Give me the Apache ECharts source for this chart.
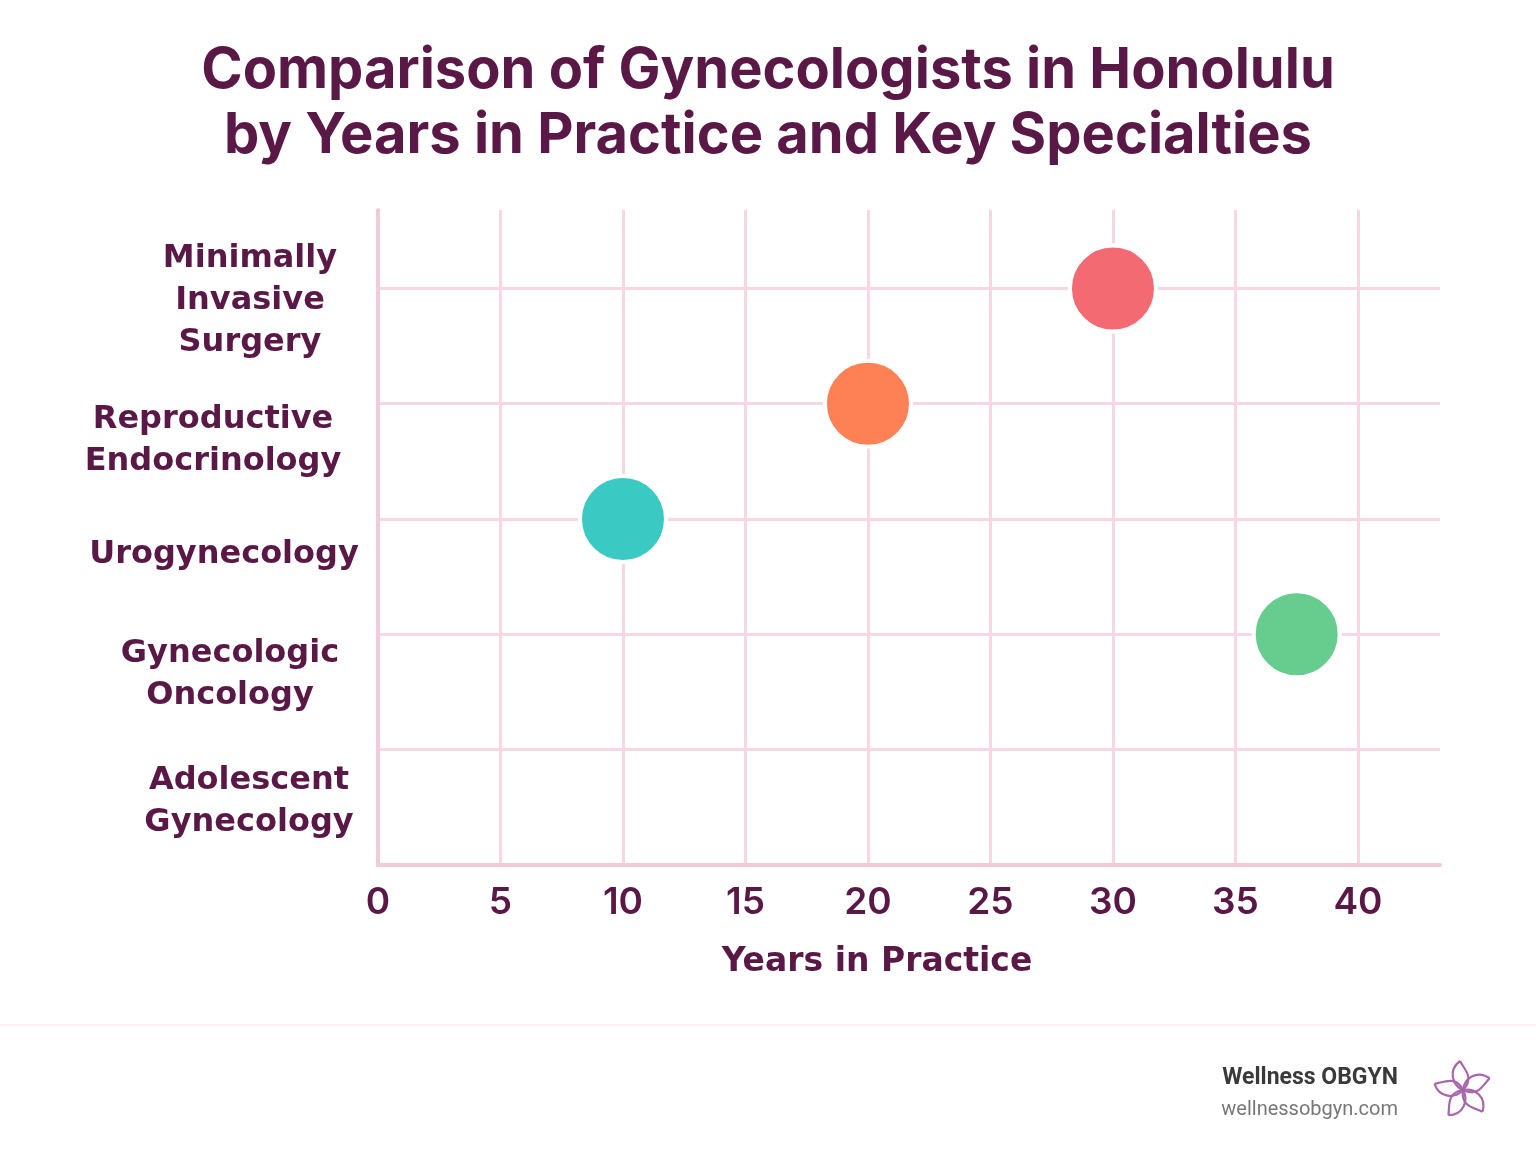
<!DOCTYPE html>
<html><head><meta charset="utf-8">
<script src="https://cdn.jsdelivr.net/npm/echarts@6/dist/echarts.min.js"></script>
<style>html,body{margin:0;padding:0;background:#fff}#c{width:1536px;height:1154px}</style>
</head><body><div id="c"></div>
<script>
// ---- data ----
const titleText = 'Comparison of Gynecologists in Honolulu\nby Years in Practice and Key Specialties';
const xAxisName = 'Years in Practice';
const categories = ['Minimally Invasive Surgery', 'Reproductive Endocrinology', 'Urogynecology', 'Gynecologic Oncology', 'Adolescent Gynecology'];
const categoryLabels = ['Minimally\nInvasive\nSurgery', 'Reproductive\nEndocrinology', 'Urogynecology', 'Gynecologic\nOncology', 'Adolescent\nGynecology'];
const pointCategories = ['Minimally Invasive Surgery', 'Reproductive Endocrinology', 'Urogynecology', 'Gynecologic Oncology'];
const yearsInPractice = [30, 20, 10, 37.5];
const xTickLabels = ['0', '5', '10', '15', '20', '25', '30', '35', '40'];
const brandName = 'Wellness OBGYN';
const brandUrl = 'wellnessobgyn.com';

// ---- styling ----
const pointColors = ['#f46a72', '#fe8055', '#3bc9c4', '#66cd8e'];
const ink = '#5a1846';
const gridPink = '#f7d7e3';
const axisPink = '#f2cbdb';
const FONT = 'Inter, "Noto Sans", sans-serif';
const WIDE = '"DejaVu Sans", Inter, sans-serif';
const labelNudgeY = [-0.11, -0.32, -0.31, -0.35, -0.45];
const labelShiftX = [18, -19, -8, -2, 17];

const yOf = c => categories.length - categories.indexOf(c);
const labelPos = categories.map((c, i) => yOf(c) + labelNudgeY[i]);

const rich = {};
categories.forEach((c, i) => {
  const s = labelShiftX[i];
  rich['r' + i] = {
    fontFamily: WIDE, fontSize: 32, fontWeight: 'bold', color: ink, lineHeight: 42,
    padding: s >= 0 ? [0, 0, 0, 2 * s] : [0, -2 * s, 0, 0]
  };
});

const chart = echarts.init(document.getElementById('c'), null, {renderer: 'canvas'});

const petalStyle = {fill: 'none', stroke: '#a767ab', lineWidth: 2.2};
const petals = [];
for (let k = 0; k < 5; k++) {
  const rot = -k * Math.PI * 2 / 5;
  petals.push({type: 'bezierCurve', rotation: rot, x: 0, y: 0,
    shape: {x1: 0, y1: 0, cpx1: -11, cpy1: -5, cpx2: -15, cpy2: -20, x2: -3, y2: -29}, style: petalStyle});
  petals.push({type: 'bezierCurve', rotation: rot, x: 0, y: 0,
    shape: {x1: -3, y1: -29, cpx1: 1, cpy1: -21, cpx2: 12, cpy2: -12, x2: 0, y2: 0}, style: petalStyle});
}

const option = {
  backgroundColor: '#ffffff',
  animation: false,
  title: {
    text: titleText, left: 'center', top: 34,
    textStyle: {fontFamily: FONT, fontSize: 56, fontWeight: 700, color: ink, lineHeight: 65}
  },
  grid: {left: 378, right: 96, top: 210, bottom: 289, containLabel: false},
  xAxis: {
    type: 'value', min: 0, max: 43.35, interval: 5,
    name: xAxisName, nameLocation: 'middle', nameGap: 81,
    nameTextStyle: {fontFamily: WIDE, fontSize: 33, fontWeight: 'bold', color: ink, padding: [0, 64, 0, 0]},
    axisLine: {show: true, lineStyle: {color: axisPink, width: 4}},
    axisTick: {show: false},
    axisLabel: {
      margin: 19, fontFamily: FONT, fontSize: 37, fontWeight: 600, color: ink,
      showMaxLabel: false,
      formatter: v => { const i = Math.round(v / 5); return (Math.abs(v - i * 5) < 1e-6 && xTickLabels[i] !== undefined) ? xTickLabels[i] : ''; }
    },
    splitLine: {show: true, showMinLine: false, showMaxLine: false, lineStyle: {color: gridPink, width: 3}}
  },
  yAxis: {
    type: 'value', min: 0, max: 5.68, interval: 1,
    axisLine: {show: true, lineStyle: {color: axisPink, width: 4}},
    axisTick: {show: false},
    axisLabel: {
      customValues: labelPos,
      margin: 146, align: 'center', verticalAlign: 'middle',
      fontFamily: WIDE, fontSize: 32, fontWeight: 'bold', color: ink, lineHeight: 42,
      rich: rich,
      formatter: v => {
        let best = -1, bd = 1e9;
        labelPos.forEach((p, i) => { const d = Math.abs(p - v); if (d < bd) { bd = d; best = i; } });
        if (best < 0 || bd > 0.05) return '';
        return categoryLabels[best].split('\n').map(l => '{r' + best + '|' + l + '}').join('\n');
      }
    },
    splitLine: {show: true, showMinLine: false, showMaxLine: false, lineStyle: {color: gridPink, width: 3}}
  },
  series: [{
    type: 'scatter',
    symbol: 'circle',
    symbolSize: 86,
    z: 5,
    data: pointCategories.map((c, i) => ({
      value: [yearsInPractice[i], yOf(c)],
      name: c,
      itemStyle: {color: pointColors[i], borderColor: '#ffffff', borderWidth: 4, opacity: 1}
    }))
  }],
  graphic: [
    {type: 'rect', shape: {x: 0, y: 1024, width: 1536, height: 2}, style: {fill: '#fbeff8'}},
    {type: 'text', x: 1398, y: 1078, style: {text: brandName, fill: '#3a3a3a', font: 'bold 23px Roboto, "Noto Sans", sans-serif', textAlign: 'right', textVerticalAlign: 'middle'}},
    {type: 'text', x: 1398, y: 1110, style: {text: brandUrl, fill: '#777777', font: '20px Roboto, "Noto Sans", sans-serif', textAlign: 'right', textVerticalAlign: 'middle'}},
    {type: 'group', x: 1463, y: 1090, children: petals}
  ]
};
chart.setOption(option);
</script>
</body></html>
